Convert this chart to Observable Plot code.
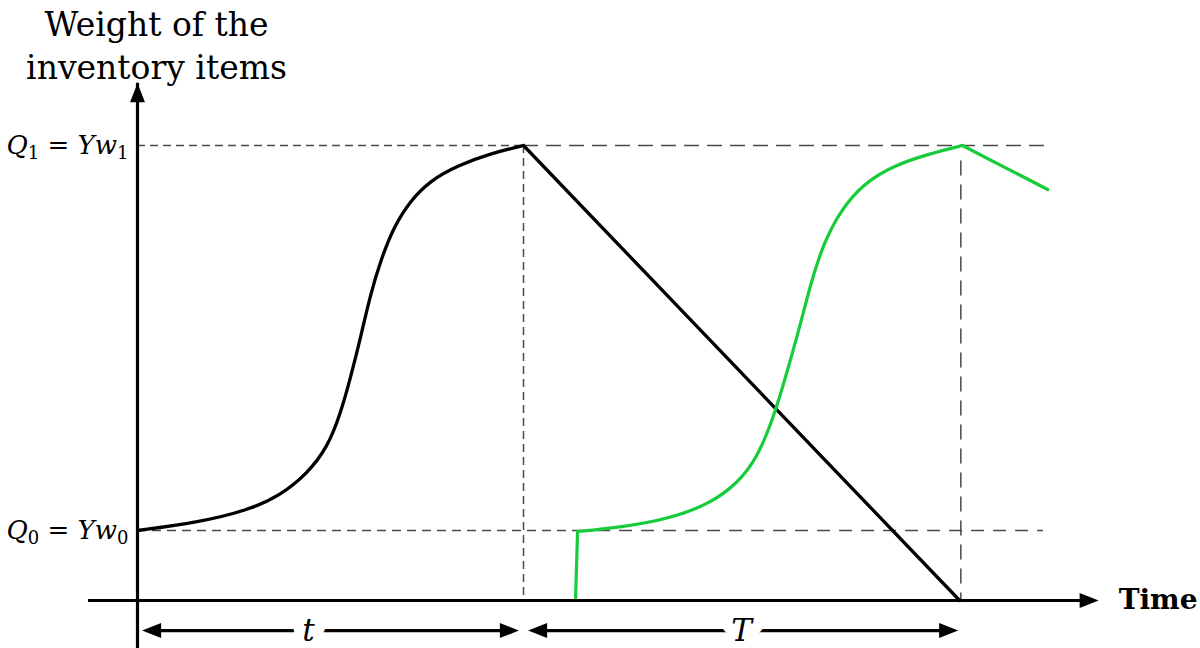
<!DOCTYPE html>
<html><head><meta charset="utf-8">
<script src="https://cdn.jsdelivr.net/npm/d3@7"></script>
<script src="https://cdn.jsdelivr.net/npm/@observablehq/plot@0.6"></script>
<style>html,body{margin:0;padding:0;background:#fff;}</style>
</head><body><div id="chart"></div>
<script>
// ---------- data (time in units of t, weight in units of Q0) ----------
const t = 1;            // growing period ends
const cycleEnd = 2.13;  // t + T : inventory reaches zero
const Q0 = 1;
const Q1 = 6.5;
const growthX = [0, 0.155, 0.285, 0.370, 0.440, 0.492, 0.526, 0.552, 0.578, 0.604, 0.630, 0.663, 0.707, 0.759, 0.829, 0.915, 1];
const growthY = [1, 1.114, 1.286, 1.5, 1.814, 2.186, 2.671, 3.186, 3.757, 4.386, 4.857, 5.329, 5.714, 6.0, 6.214, 6.386, 6.5];
const depletionX = [1, 2.13];
const depletionY = [6.5, 0];
const nextStartX = [1.135, 1.140];
const nextStartY = [0.04, 0.986];
const nextGrowthX = [1.140, 1.251, 1.381, 1.484, 1.554, 1.606, 1.648, 1.684, 1.718, 1.744, 1.777, 1.821, 1.881, 1.959, 2.054, 2.137];
const nextGrowthY = [0.986, 1.043, 1.171, 1.386, 1.671, 2.043, 2.614, 3.286, 3.957, 4.529, 5.1, 5.571, 5.957, 6.214, 6.386, 6.5];
const nextDepletionX = [2.137, 2.358];
const nextDepletionY = [6.5, 5.871];
const yLabels = ["Q\u2081 = Yw\u2081", "Q\u2080 = Yw\u2080"];
const yLabelValues = [Q1, Q0];
const xTitle = "Time";
const yTitle = "Weight of the\ninventory items";
const spanLabels = ["t", "T"];

// ---------- layout ----------
const xAxisStart = -0.127, xAxisEnd = 2.49;
const yAxisStart = -0.571, yAxisEnd = 7.39;
const dimY = -0.43;
const ins = 0.012;
const dashColor = "#4a4a4a";
const green = "#17cc3a";

const pts = (xs, ys) => xs.map((x, i) => ({x, y: ys[i]}));
const arrowHead = {draw(ctx) { ctx.moveTo(0, 0); ctx.lineTo(-19, -7.5); ctx.lineTo(-19, 7.5); ctx.closePath(); }};

const heads = [
  {x: xAxisEnd, y: 0, r: 0},
  {x: 0, y: yAxisEnd, r: -90},
  {x: 0 + ins, y: dimY, r: 180},
  {x: t - ins, y: dimY, r: 0},
  {x: t + ins, y: dimY, r: 180},
  {x: cycleEnd - 0.004, y: dimY, r: 0}
];

const plot = Plot.plot({
  width: 1200, height: 648, margin: 0,
  x: {domain: [0, 1], range: [137, 523], axis: null},
  y: {domain: [0, 1], range: [600, 530], axis: null},
  style: {fontFamily: "DejaVu Serif", background: "white", color: "black"},
  marks: [
    // dashed guides
    Plot.ruleY([{y: Q1, a: 0, b: t}], {y: "y", x1: "a", x2: "b", stroke: dashColor, strokeWidth: 1.5, strokeDasharray: "8,5"}),
    Plot.ruleY([{y: Q1, a: t, b: nextDepletionX[1]}], {y: "y", x1: "a", x2: "b", stroke: dashColor, strokeWidth: 1.5, strokeDasharray: "15,8"}),
    Plot.ruleY([{y: Q0, a: 0, b: nextStartX[0]}], {y: "y", x1: "a", x2: "b", stroke: dashColor, strokeWidth: 1.5, strokeDasharray: "9,6"}),
    Plot.ruleY([{y: Q0, a: nextStartX[0], b: 2.347}], {y: "y", x1: "a", x2: "b", stroke: dashColor, strokeWidth: 1.5, strokeDasharray: "13,9"}),
    Plot.ruleX([{x: t, a: Q1, b: 0}], {x: "x", y1: "a", y2: "b", stroke: dashColor, strokeWidth: 1.5, strokeDasharray: "8,5"}),
    Plot.ruleX([{x: cycleEnd + 0.003, a: 6.28, b: 0}], {x: "x", y1: "a", y2: "b", stroke: dashColor, strokeWidth: 1.5, strokeDasharray: "15,9"}),
    // curves
    Plot.line(pts(growthX, growthY), {x: "x", y: "y", curve: "basis", stroke: "black", strokeWidth: 3.3}),
    Plot.line(pts(depletionX, depletionY), {x: "x", y: "y", stroke: "black", strokeWidth: 3.3}),
    Plot.line(pts(nextStartX, nextStartY), {x: "x", y: "y", stroke: green, strokeWidth: 3.2}),
    Plot.line(pts(nextGrowthX, nextGrowthY), {x: "x", y: "y", curve: "basis", stroke: green, strokeWidth: 3.2}),
    Plot.line(pts(nextDepletionX, nextDepletionY), {x: "x", y: "y", stroke: green, strokeWidth: 3.2}),
    // axes
    Plot.ruleY([0], {x1: xAxisStart, x2: xAxisEnd, insetRight: 10, stroke: "black", strokeWidth: 3.2}),
    Plot.ruleX([0], {y1: yAxisStart, y2: yAxisEnd, insetTop: 10, stroke: "black", strokeWidth: 3.2}),
    // dimension shafts
    Plot.ruleY([{y: dimY, a: 0 + ins, b: t - ins}], {y: "y", x1: "a", x2: "b", insetLeft: 10, insetRight: 10, stroke: "black", strokeWidth: 3.2}),
    Plot.ruleY([{y: dimY, a: t + ins, b: cycleEnd - 0.004}], {y: "y", x1: "a", x2: "b", insetLeft: 10, insetRight: 10, stroke: "black", strokeWidth: 3.2}),
    // arrow heads
    Plot.dot(heads, {x: "x", y: "y", rotate: "r", symbol: arrowHead, fill: "black", stroke: "none", r: 5}),
    // labels
    Plot.text([{label: spanLabels[0], x: 0.443, y: dimY}], {x: "x", y: "y", text: "label", fontSize: 31, fontStyle: "italic", fill: "black", stroke: "white", strokeWidth: 22, paintOrder: "stroke", lineAnchor: "middle"}),
    Plot.text([{label: spanLabels[1], x: (t + cycleEnd) / 2, y: dimY}], {x: "x", y: "y", text: "label", fontSize: 31, fontStyle: "italic", fill: "black", stroke: "white", strokeWidth: 22, paintOrder: "stroke", lineAnchor: "middle"}),
    Plot.text(yLabels.map((label, i) => ({label, y: yLabelValues[i]})), {frameAnchor: "left", y: "y", text: "label", dx: 128, textAnchor: "end", lineAnchor: "middle", fontSize: 26, fill: "black", className: "qlabels"}),
    Plot.text([{label: xTitle, x: xAxisEnd, y: 0}], {x: "x", y: "y", text: "label", dx: 20, textAnchor: "start", lineAnchor: "middle", fontSize: 28, fontWeight: "bold", fill: "black"}),
    Plot.text([yTitle], {frameAnchor: "top-left", text: d => d, dx: 156, dy: 5, textAnchor: "middle", lineAnchor: "top", lineHeight: 1.3, fontSize: 33, fill: "black"})
  ]
});

// typeset the math labels: italic letters, upright digits/operators, real subscripts
const subs = {"\u2080": "0", "\u2081": "1"};
plot.querySelectorAll(".qlabels text").forEach(el => {
  const s = el.textContent;
  el.textContent = "";
  let lowered = false;
  for (const ch of s) {
    const ts = document.createElementNS("http://www.w3.org/2000/svg", "tspan");
    if (subs[ch]) {
      ts.textContent = subs[ch];
      ts.setAttribute("font-size", "18");
      ts.setAttribute("font-style", "normal");
      if (!lowered) { ts.setAttribute("dy", "5"); lowered = true; }
    } else {
      ts.textContent = ch;
      ts.setAttribute("font-style", /[A-Za-z]/.test(ch) ? "italic" : "normal");
      if (lowered) { ts.setAttribute("dy", "-5"); lowered = false; }
    }
    el.appendChild(ts);
  }
});
document.getElementById("chart").appendChild(plot);
</script>
</body></html>
